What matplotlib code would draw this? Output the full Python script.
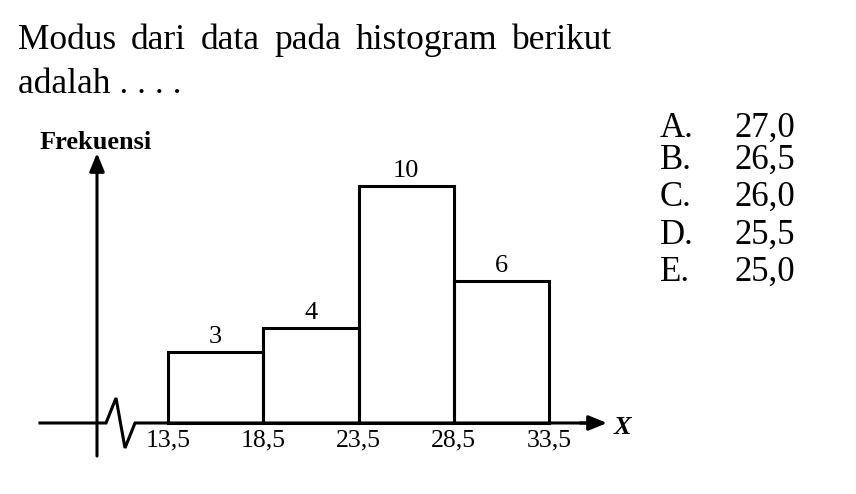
import numpy as np
import matplotlib
matplotlib.use("Agg")
import matplotlib.pyplot as plt

# histogram data (class boundaries and frequencies)
edges = [13.5, 18.5, 23.5, 28.5, 33.5]
freq = [3, 4, 10, 6]
tick_labels = ["13,5", "18,5", "23,5", "28,5", "33,5"]

question_words = ["Modus", "dari", "data", "pada", "histogram", "berikut"]
options = ["A.", "B.", "C.", "D.", "E."]
option_values = ["27,0", "26,5", "26,0", "25,5", "25,0"]

W, H = 856, 494
SERIF = "Liberation Serif"


def fp(x, y):
    # pixel from top-left -> figure pixels (bottom-left origin)
    return (x, H - y)


def main():
    fig = plt.figure(figsize=(W / 100, H / 100), dpi=100)
    ax = fig.add_axes([0, 0, 1, 1])
    ax.axis("off")

    # 13.5 sits at px 168, 33.5 at px 549; freq 0 at px 423, 10 at px 186
    sx = (549 - 168) / (edges[-1] - edges[0])
    sy = (423 - 186) / 10
    ax.set_xlim(edges[0] - 168 / sx, edges[0] + (W - 168) / sx)
    ax.set_ylim(-(H - 423) / sy, 423 / sy)

    lw = 2.2
    ax.bar(edges[:-1], freq, width=np.diff(edges), align="edge",
           fill=False, edgecolor="black", linewidth=lw)

    for left, right, f in zip(edges[:-1], edges[1:], freq):
        ax.annotate(str(f), ((left + right) / 2, f), xytext=(0, 3),
                    textcoords="offset points", ha="center", va="bottom",
                    fontsize=19, family=SERIF)

    for e, lab in zip(edges, tick_labels):
        ax.annotate(lab, (e, 0), xytext=(0, -5), textcoords="offset points",
                    ha="center", va="top", fontsize=18.5, family=SERIF)

    # axes with broken-axis zigzag
    pts = [fp(40, 423), fp(106, 423), fp(116, 398), fp(125, 448),
           fp(135, 423), fp(590, 423)]
    xs, ys = zip(*pts)
    ax.plot(np.array(xs) / W, np.array(ys) / H, color="black", lw=lw,
            transform=fig.transFigure, solid_joinstyle="miter")
    arrow = dict(arrowstyle="-|>,head_length=1.1,head_width=0.45",
                 color="black", lw=lw, shrinkA=0, shrinkB=0)
    ax.annotate("", xy=fp(607, 423), xytext=fp(580, 423),
                xycoords="figure pixels", textcoords="figure pixels",
                arrowprops=arrow)
    ax.annotate("", xy=fp(97, 153), xytext=fp(97, 456),
                xycoords="figure pixels", textcoords="figure pixels",
                arrowprops=arrow)

    ax.annotate("X", fp(614, 434), xycoords="figure pixels", fontsize=19,
                family=SERIF, style="italic", fontweight="bold")
    ax.annotate("Frekuensi", fp(40, 149), xycoords="figure pixels",
                fontsize=19, family=SERIF, fontweight="bold")

    # question text, justified between px 18 and 612
    renderer = fig.canvas.get_renderer()
    words = [ax.annotate(w, fp(0, 49), xycoords="figure pixels",
                         fontsize=25.5, family=SERIF) for w in question_words]
    widths = [t.get_window_extent(renderer).width for t in words]
    gap = (612 - 18 - sum(widths)) / (len(words) - 1)
    x = 18
    for t, wd in zip(words, widths):
        t.xy = fp(x, 49)
        t.xyann = fp(x, 49)
        x += wd + gap
    ax.annotate("adalah . . . .", fp(18, 93), xycoords="figure pixels",
                fontsize=25.5, family=SERIF)

    opt_y = [137, 169, 206, 244, 281]
    for o, v, y in zip(options, option_values, opt_y):
        ax.annotate(o, fp(660, y), xycoords="figure pixels", fontsize=25,
                    family=SERIF)
        ax.annotate(v, fp(735, y), xycoords="figure pixels", fontsize=25,
                    family=SERIF)

    fig.savefig("out.png", dpi=100)


if __name__ == "__main__":
    main()
